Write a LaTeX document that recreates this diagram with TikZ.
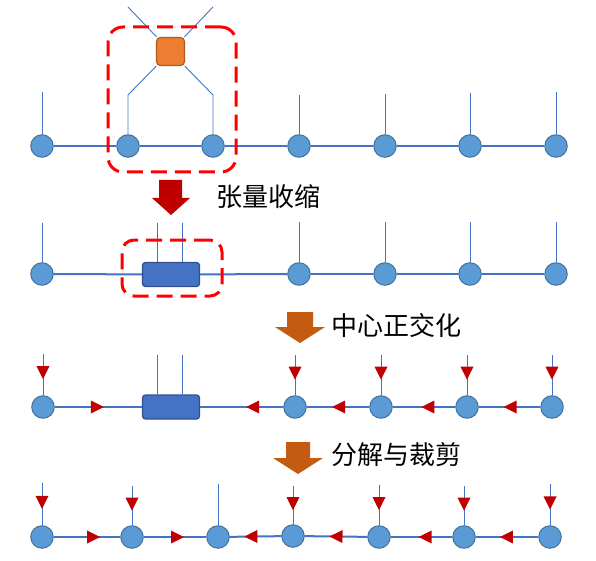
\documentclass[tikz,border=0pt]{standalone}
\usepackage{fontspec}
\newfontfamily\cjk{Noto Sans CJK SC}
\usetikzlibrary{decorations.markings}
\definecolor{circfill}{HTML}{5B9BD5}
\definecolor{circdraw}{HTML}{41719C}
\definecolor{bondblue}{HTML}{4472C4}
\definecolor{corefill}{HTML}{4472C4}
\definecolor{coredraw}{HTML}{2F528F}
\definecolor{tensfill}{HTML}{ED7D31}
\definecolor{tensdraw}{HTML}{AE5A21}
\definecolor{dashred}{HTML}{FF0000}
\definecolor{arrred}{HTML}{C00000}
\definecolor{arrorange}{HTML}{C55A11}
\begin{document}
\begin{tikzpicture}[x=1pt,y=-1pt,
  site/.style={circle,draw=circdraw,fill=circfill,line width=1pt,minimum size=22.5pt,inner sep=0pt},
  core/.style={rectangle,rounded corners=3pt,draw=coredraw,fill=corefill,line width=1.3pt,minimum width=57pt,minimum height=24pt,inner sep=0pt},
  tens/.style={rectangle,rounded corners=4pt,draw=tensdraw,fill=tensfill,line width=1.2pt,minimum size=28pt,inner sep=0pt},
  bond/.style={draw=bondblue,line width=2pt},
  leg/.style={draw=bondblue,line width=0.9pt},
  dashbox/.style={rectangle,draw=dashred,line width=3pt,dash pattern=on 16pt off 8pt,inner sep=0pt},
  mk/.style={postaction={decorate,decoration={markings,mark=at position #1 with {\fill[arrred] (-6.5pt,-6.5pt)--(6.5pt,0pt)--(-6.5pt,6.5pt)--cycle;}}}},
  lbl/.style={anchor=west,inner sep=0pt,font=\cjk\fontsize{26}{30}\selectfont},
]
\useasboundingbox (0,0) rectangle (596,561);
% ---------- row 1 ----------
\node[site] (a1) at (42,146) {};
\node[site] (a2) at (128,146) {};
\node[site] (a3) at (213,146) {};
\node[site] (a4) at (299,146) {};
\node[site] (a5) at (385,146) {};
\node[site] (a6) at (470,146) {};
\node[site] (a7) at (556,146) {};
\node[tens] (o) at (170.5,51.5) {};
\coordinate (a1t) at (42,92);
\coordinate (a4t) at (299,95);
\coordinate (a5t) at (385,94);
\coordinate (a6t) at (470,93);
\coordinate (a7t) at (556,92);
\coordinate (otl) at (128,7);
\coordinate (otr) at (213,7);
\coordinate (obl) at (128,95);
\coordinate (obr) at (213,95);
\draw[bond] (a1) -- (a2);
\draw[bond] (a2) -- (a3);
\draw[bond] (a3) -- (a4);
\draw[bond] (a4) -- (a5);
\draw[bond] (a5) -- (a6);
\draw[bond] (a6) -- (a7);
\draw[leg] (a1t) -- (a1);
\draw[leg] (a4t) -- (a4);
\draw[leg] (a5t) -- (a5);
\draw[leg] (a6t) -- (a6);
\draw[leg] (a7t) -- (a7);
\draw[leg] (otl) -- (o);
\draw[leg] (otr) -- (o);
\draw[leg] (o) -- (obl) -- (a2);
\draw[leg] (o) -- (obr) -- (a3);
\node[dashbox,rounded corners=15pt,minimum width=128pt,minimum height=145pt] (box1) at (172,99.5) {};
% arrow 1
\fill[arrred] (159,180) -- (182,180) -- (182,198) -- (190,198) -- (171,215) -- (152,198) -- (159,198) -- cycle;
\node[lbl] (t1) at (216,197) {张量收缩};
% ---------- row 2 ----------
\node[site] (b1) at (42,274) {};
\node[core] (B) at (171,274.5) {};
\node[site] (b4) at (299,274) {};
\node[site] (b5) at (385,274) {};
\node[site] (b6) at (470,274) {};
\node[site] (b7) at (556,274) {};
\coordinate (b1t) at (42,223);
\coordinate (Bl) at (157,223);
\coordinate (Br) at (182,223);
\coordinate (b4t) at (299,222);
\coordinate (b5t) at (385,222);
\coordinate (b6t) at (470,222);
\coordinate (b7t) at (556,222);
\draw[bond] (b1) -- (B);
\draw[bond] (B) -- (b4);
\draw[bond] (b4) -- (b5);
\draw[bond] (b5) -- (b6);
\draw[bond] (b6) -- (b7);
\draw[leg] (b1t) -- (b1);
\draw[leg] (Bl) -- (Bl |- B.north);
\draw[leg] (Br) -- (Br |- B.north);
\draw[leg] (b4t) -- (b4);
\draw[leg] (b5t) -- (b5);
\draw[leg] (b6t) -- (b6);
\draw[leg] (b7t) -- (b7);
\node[dashbox,rounded corners=12pt,minimum width=100pt,minimum height=56pt] (box2) at (172,268) {};
% arrow 2
\fill[arrorange] (287,312) -- (313,312) -- (313,327) -- (325,327) -- (300,343) -- (275,327) -- (287,327) -- cycle;
\node[lbl] (t2) at (331,326) {中心正交化};
% ---------- row 3 ----------
\node[site] (c1) at (43,407) {};
\node[core] (C) at (171,407) {};
\node[site] (c4) at (295,407) {};
\node[site] (c5) at (381,407) {};
\node[site] (c6) at (467,407) {};
\node[site] (c7) at (552,407) {};
\coordinate (c1t) at (43,354);
\coordinate (Cl) at (157,355);
\coordinate (Cr) at (182,355);
\coordinate (c4t) at (295,355);
\coordinate (c5t) at (381,355);
\coordinate (c6t) at (467,355);
\coordinate (c7t) at (552,355);
\draw[bond,mk=0.49] (c1) -- (C);
\draw[bond,mk=0.37] (c4) -- (C);
\draw[bond,mk=0.49] (c5) -- (c4);
\draw[bond,mk=0.44] (c6) -- (c5);
\draw[bond,mk=0.49] (c7) -- (c6);
\draw[leg,mk=0.45] (c1t) -- (c1);
\draw[leg] (Cl) -- (Cl |- C.north);
\draw[leg] (Cr) -- (Cr |- C.north);
\draw[leg,mk=0.45] (c4t) -- (c4);
\draw[leg,mk=0.45] (c5t) -- (c5);
\draw[leg,mk=0.45] (c6t) -- (c6);
\draw[leg,mk=0.45] (c7t) -- (c7);
% arrow 3
\fill[arrorange] (286,442) -- (310,442) -- (310,458) -- (323,458) -- (298,474) -- (273,458) -- (286,458) -- cycle;
\node[lbl] (t3) at (331,455) {分解与裁剪};
% ---------- row 4 ----------
\node[site] (d1) at (42,537) {};
\node[site] (d2) at (132,537) {};
\node[site] (d3) at (218,537) {};
\node[site] (d4) at (293,536) {};
\node[site] (d5) at (379,537) {};
\node[site] (d6) at (464,537) {};
\node[site] (d7) at (550,537) {};
\coordinate (d1t) at (42,483);
\coordinate (d2t) at (132,486);
\coordinate (d3t) at (218,484);
\coordinate (d4t) at (293,486);
\coordinate (d5t) at (379,485);
\coordinate (d6t) at (464,486);
\coordinate (d7t) at (550,484);
\draw[bond,mk=0.6] (d1) -- (d2);
\draw[bond,mk=0.54] (d2) -- (d3);
\draw[bond,mk=0.59] (d4) -- (d3);
\draw[bond,mk=0.5] (d5) -- (d4);
\draw[bond,mk=0.44] (d6) -- (d5);
\draw[bond,mk=0.51] (d7) -- (d6);
\draw[leg,mk=0.46] (d1t) -- (d1);
\draw[leg,mk=0.46] (d2t) -- (d2);
\draw[leg] (d3t) -- (d3);
\draw[leg,mk=0.46] (d4t) -- (d4);
\draw[leg,mk=0.46] (d5t) -- (d5);
\draw[leg,mk=0.46] (d6t) -- (d6);
\draw[leg,mk=0.46] (d7t) -- (d7);
\end{tikzpicture}
\end{document}
